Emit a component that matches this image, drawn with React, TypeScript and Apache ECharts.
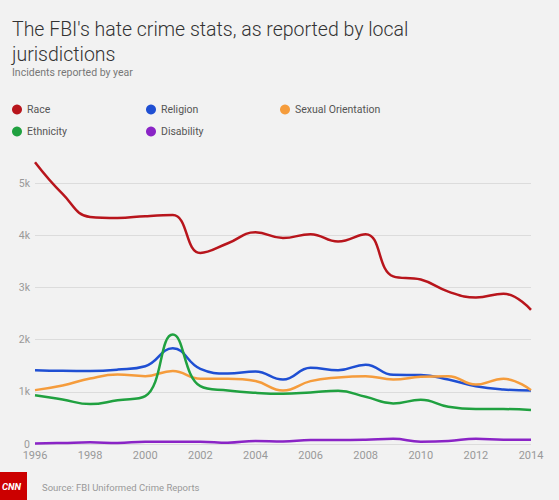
import React, { useEffect, useRef } from 'react';
import * as echarts from 'echarts';

const years = [
  '1996', '1997', '1998', '1999', '2000', '2001', '2002', '2003', '2004', '2005',
  '2006', '2007', '2008', '2009', '2010', '2011', '2012', '2013', '2014',
];

const race = [5396, 4790, 4350, 4330, 4365, 4385, 3660, 3845, 4055, 3945, 4020, 3880, 4020, 3210, 3150, 2920, 2805, 2880, 2570];
const religion = [1414, 1401, 1400, 1425, 1490, 1834, 1440, 1350, 1390, 1235, 1460, 1414, 1520, 1325, 1322, 1235, 1108, 1045, 1025];
const sexualOrientation = [1032, 1120, 1255, 1330, 1300, 1400, 1250, 1250, 1205, 1025, 1205, 1275, 1300, 1235, 1287, 1300, 1140, 1250, 1032];
const ethnicity = [936, 853, 764, 840, 917, 2096, 1108, 1025, 980, 962, 987, 1019, 904, 777, 847, 713, 669, 669, 650];
const disability = [10, 20, 32, 20, 45, 45, 45, 25, 57, 50, 76, 76, 83, 100, 45, 57, 100, 83, 83];

const yTicks = ['0', '1k', '2k', '3k', '4k', '5k'];

const seriesList = [
  { name: 'Race', data: race, color: '#b8151c' },
  { name: 'Religion', data: religion, color: '#1f4fd3' },
  { name: 'Sexual Orientation', data: sexualOrientation, color: '#f59c3c' },
  { name: 'Ethnicity', data: ethnicity, color: '#20a140' },
  { name: 'Disability', data: disability, color: '#8a24c6' },
];

// legend slots: three per row
const legendSlots = [
  [12, 104],
  [146, 104],
  [280, 104],
  [12, 126],
  [146, 126],
];

const App: React.FC = () => {
  const chartRef = useRef<HTMLDivElement | null>(null);

  useEffect(() => {
    if (!chartRef.current) return;
    const chart = echarts.init(chartRef.current, undefined, { renderer: 'svg' });

    chart.setOption({
      animation: false,
      backgroundColor: '#f2f2f2',
      textStyle: { fontFamily: 'Roboto' },
      title: [
        {
          text: "The FBI's hate crime stats, as reported by local\njurisdictions",
          left: 12,
          top: 17,
          padding: 0,
          textStyle: { fontSize: 19.5, fontWeight: 300, color: '#333', lineHeight: 25, fontFamily: 'Roboto' },
        },
        {
          text: 'Incidents reported by year',
          left: 12,
          top: 67,
          padding: 0,
          textStyle: { fontSize: 10.5, fontWeight: 400, color: '#777', fontFamily: 'Roboto' },
        },
      ],
      legend: seriesList.map((s, i) => ({
        left: legendSlots[i][0],
        top: legendSlots[i][1],
        padding: 0,
        icon: 'circle',
        itemWidth: 10,
        itemHeight: 10,
        itemGap: 5,
        textStyle: { fontSize: 10.5, color: '#555' },
        data: [s.name],
      })),
      grid: { left: 35, right: 28, top: 183, bottom: 56 },
      xAxis: {
        type: 'category',
        data: years,
        boundaryGap: false,
        axisLine: { show: false },
        axisTick: { show: false },
        axisLabel: {
          interval: 1,
          color: '#999',
          fontSize: 11,
          margin: 6,
        },
        splitLine: { show: false },
      },
      yAxis: {
        type: 'value',
        min: 0,
        max: 5000,
        interval: 1000,
        axisLine: { show: false },
        axisTick: { show: false },
        axisLabel: {
          color: '#999',
          fontSize: 10.5,
          margin: 5,
          formatter: (v: number) => yTicks[Math.round(v / 1000)] ?? '',
        },
        splitLine: { lineStyle: { color: '#dcdcdc', width: 1 } },
      },
      series: seriesList.map((s) => ({
        name: s.name,
        type: 'line',
        data: s.data,
        smooth: 0.45,
        clip: false,
        symbol: 'none',
        color: s.color,
        lineStyle: { color: s.color, width: 2.5 },
      })),
      graphic: [
        {
          type: 'rect',
          left: 0,
          top: 472,
          shape: { width: 27, height: 28 },
          style: { fill: '#cc0000' },
        },
        {
          type: 'text',
          left: 2,
          top: 481,
          style: { text: 'CNN', fill: '#fff', font: 'bold italic 9.5px Roboto' },
        },
        {
          type: 'text',
          left: 42,
          top: 482,
          style: { text: 'Source: FBI Uniformed Crime Reports', fill: '#999', font: '9.5px Roboto' },
        },
      ],
    });

    return () => {
      chart.dispose();
    };
  }, []);

  return <div ref={chartRef} style={{ position: 'fixed', left: 0, top: 0, width: 559, height: 500 }} />;
};

export default App;
